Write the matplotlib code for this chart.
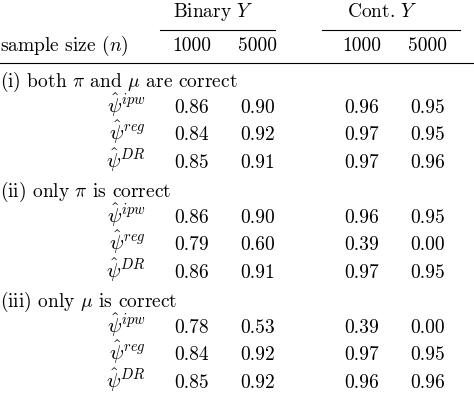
import matplotlib
matplotlib.use("Agg")
import matplotlib.pyplot as plt

plt.rcParams["font.family"] = "serif"
plt.rcParams["font.serif"] = ["cmr10", "DejaVu Serif"]
plt.rcParams["mathtext.fontset"] = "cm"

groups = [r"(i) both $\pi$ and $\mu$ are correct",
          r"(ii) only $\pi$ is correct",
          r"(iii) only $\mu$ is correct"]
estimators = [r"$\hat{\psi}^{ipw}$", r"$\hat{\psi}^{reg}$", r"$\hat{\psi}^{DR}$"]
sample_sizes = ["1000", "5000", "1000", "5000"]
# columns: binary n=1000, binary n=5000, cont n=1000, cont n=5000
values = [
    [[0.86, 0.90, 0.96, 0.95], [0.84, 0.92, 0.97, 0.95], [0.85, 0.91, 0.97, 0.96]],
    [[0.86, 0.90, 0.96, 0.95], [0.79, 0.60, 0.39, 0.00], [0.86, 0.91, 0.97, 0.95]],
    [[0.78, 0.53, 0.39, 0.00], [0.84, 0.92, 0.97, 0.95], [0.85, 0.92, 0.96, 0.96]],
]

W, H = 474, 401
fig = plt.figure(figsize=(W / 100, H / 100), dpi=100)
ax = fig.add_axes([0, 0, 1, 1])
ax.set_xlim(0, W)
ax.set_ylim(H, 0)
ax.axis("off")

fs = 14
col_x = [192, 258, 362, 428]
ax.text(213, 12, r"Binary $Y$", ha="center", va="center", fontsize=fs)
ax.text(382, 12, r"Cont. $Y$", ha="center", va="center", fontsize=fs)
ax.plot([160, 275], [30, 30], color="black", lw=0.8)
ax.plot([322, 460], [30, 30], color="black", lw=0.8)
ax.text(0, 46, r"sample size ($n$)", ha="left", va="center", fontsize=fs)
for x, s in zip(col_x, sample_sizes):
    ax.text(x, 46, s, ha="center", va="center", fontsize=fs)
ax.plot([0, W], [63, 63], color="black", lw=0.8)

y = 82
for g, grp in enumerate(groups):
    ax.text(0, y, grp, ha="left", va="center", fontsize=fs)
    y += 26
    for e, est in enumerate(estimators):
        ax.text(146, y - 3, est, ha="right", va="center", fontsize=fs + 1)
        for x, v in zip(col_x, values[g][e]):
            ax.text(x, y, f"{v:.2f}", ha="center", va="center", fontsize=fs)
        y += 27.5
    y += 1.5

fig.savefig("out.png", dpi=100)
